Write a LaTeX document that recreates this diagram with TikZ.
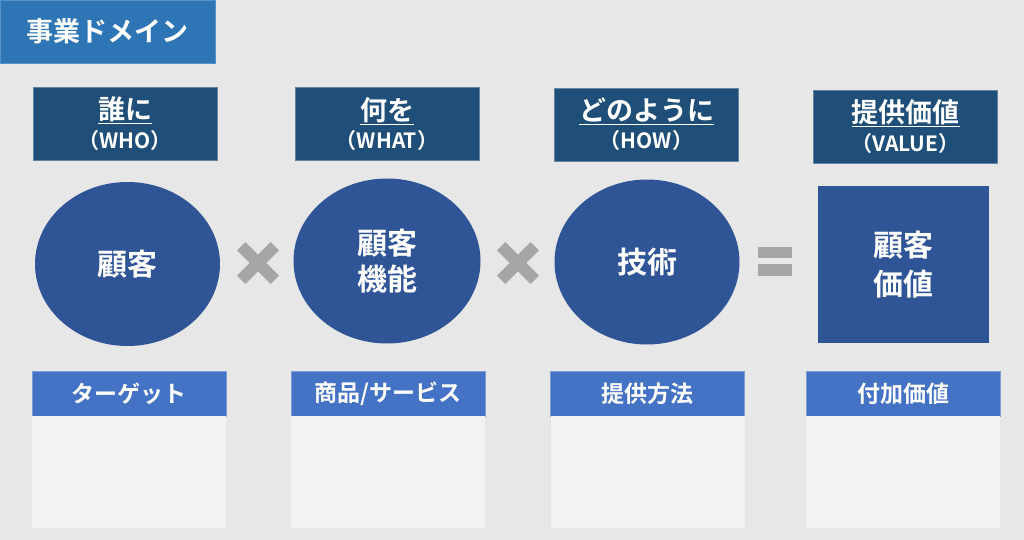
\documentclass[tikz,border=0pt]{standalone}
\usepackage{fontspec}
\setmainfont{Noto Sans CJK JP}[BoldFont={Noto Sans CJK JP Bold}]
\usepackage{tikz}
\usetikzlibrary{shapes.geometric, positioning, calc}
\definecolor{bgcolor}{RGB}{231, 231, 231}
\definecolor{titlecolor}{RGB}{46, 117, 182}
\definecolor{headcolor}{RGB}{31, 78, 121}
\definecolor{corecolor}{RGB}{47, 85, 151}
\definecolor{labelcolor}{RGB}{68, 114, 196}
\definecolor{notecolor}{RGB}{242, 242, 242}
\definecolor{opcolor}{RGB}{166, 166, 166}
\newcommand{\headtext}[2]{{\fontsize{27}{30}\selectfont\bfseries\underline{#1}}\\[5pt]{\fontsize{21}{24}\selectfont\bfseries （#2）}}

\begin{document}
\begin{tikzpicture}[
    x=1pt, y=-1pt,
    title/.style={fill=titlecolor, draw=titlecolor!80!white, minimum width=215pt, minimum height=63pt, font=\fontsize{27}{30}\selectfont\bfseries, text=white, inner sep=0pt},
    headbox/.style={fill=headcolor, draw=headcolor!70!white, minimum width=184pt, minimum height=73pt, text=white, align=center, inner sep=0pt},
    core/.style={ellipse, fill=corecolor, minimum width=185pt, minimum height=164pt, font=\fontsize{30}{36}\selectfont\bfseries, text=white, align=center, inner sep=0pt},
    corebox/.style={fill=corecolor, minimum width=171pt, minimum height=157pt, font=\fontsize{30}{39}\selectfont\bfseries, text=white, align=center, inner sep=0pt},
    tag/.style={fill=labelcolor, draw=labelcolor!70!white, minimum width=194pt, minimum height=45pt, font=\fontsize{23}{26}\selectfont\bfseries, text=white, inner sep=0pt},
    note/.style={fill=notecolor, minimum width=194pt, minimum height=112pt, inner sep=0pt},
    op/.style={draw=opcolor, line width=12pt}
]
    % Background
    \fill[bgcolor] (0, 0) rectangle (1024, 540);
    \useasboundingbox (0, 0) rectangle (1024, 540);

    % Title
    \node[title] (domain) at (107.5, 31.5) {事業ドメイン};

    % Question headers
    \node[headbox] (who) at (125, 123.5) {\headtext{誰に}{WHO}};
    \node[headbox] (what) at (387, 124) {\headtext{何を}{WHAT}};
    \node[headbox] (how) at (646.5, 124.5) {\headtext{どのように}{HOW}};
    \node[headbox] (value) at (905.5, 126.5) {\headtext{提供価値}{VALUE}};

    % Core elements
    \node[core] (customer) at (127.5, 264) {顧客};
    \node[core, minimum width=187pt, minimum height=165pt] (function) at (387, 261) {顧客\\機能};
    \node[core, minimum height=165pt] (tech) at (647, 262) {技術};
    \node[corebox] (result) at (903.5, 264.5) {顧客\\価値};

    % Operators
    \coordinate (times1) at (258, 263);
    \coordinate (times2) at (518, 263);
    \draw[op] ($(times1)+(-16.8,-16.8)$) -- ($(times1)+(16.8,16.8)$);
    \draw[op] ($(times1)+(-16.8,16.8)$) -- ($(times1)+(16.8,-16.8)$);
    \draw[op] ($(times2)+(-16.8,-16.8)$) -- ($(times2)+(16.8,16.8)$);
    \draw[op] ($(times2)+(-16.8,16.8)$) -- ($(times2)+(16.8,-16.8)$);
    \fill[opcolor] (758, 247) rectangle (792, 258);
    \fill[opcolor] (758, 264) rectangle (792, 276);

    % Detail labels
    \node[tag] (target) at (129, 393.5) {ターゲット};
    \node[tag] (product) at (388, 393.5) {商品/サービス};
    \node[tag] (method) at (647.5, 393.5) {提供方法};
    \node[tag] (added) at (903, 393.5) {付加価値};

    % Detail boxes
    \node[note, below=0pt of target] (targetnote) {};
    \node[note, below=0pt of product] (productnote) {};
    \node[note, below=0pt of method] (methodnote) {};
    \node[note, below=0pt of added] (addednote) {};

\end{tikzpicture}
\end{document}
